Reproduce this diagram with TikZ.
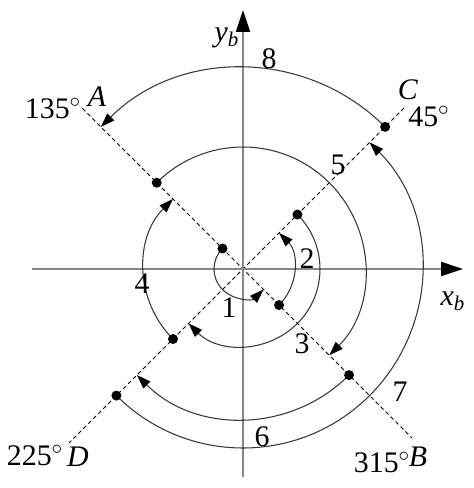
\documentclass[tikz,border=0pt]{standalone}
\usepackage{fontspec}
\setmainfont{Liberation Serif}
\usepackage{tikz}
\usetikzlibrary{arrows.meta}
\definecolor{axisgrey}{RGB}{135,135,135}
\definecolor{arcgrey}{RGB}{55,55,55}
\tikzset{%
    axisline/.style={%
        draw=axisgrey, line width=1pt,
        -{Triangle[color=black,fill=black,length=12.5pt,width=8pt]}
    },
    ray/.style={%
        draw=black, line width=0.45pt, dash pattern=on 2.3pt off 1.7pt
    },
    turn/.style={%
        draw=arcgrey, line width=0.6pt,
        -{Triangle[color=black,fill=black,length=8pt,width=5.5pt]}
    },
    lbl/.style={font=\fontsize{17}{19}\selectfont, inner sep=0pt}
}

\begin{document}
\begin{tikzpicture}[x=0.02cm,y=0.02cm]
    \useasboundingbox (-243,-219) rectangle (231,269);
    \coordinate (O) at (0,0);
    \coordinate (xs) at (-211,0);
    \coordinate (xe) at (220,0);
    \coordinate (ys) at (0,-208);
    \coordinate (ye) at (0,259);
    \coordinate (A) at (135:227);
    \coordinate (B) at (315:239);
    \coordinate (C) at (45:228);
    \coordinate (D) at (225:246);
    % dashed directions and body axes
    \draw[ray] (A) -- (O) -- (B);
    \draw[ray] (C) -- (O) -- (D);
    \draw[axisline] (xs) -- (xe);
    \draw[axisline] (ys) -- (ye);
    % start points of the turns
    \coordinate (d1) at (135:29);
    \coordinate (d2) at (315:51);
    \coordinate (d3) at (45:77);
    \coordinate (d4) at (225:99);
    \coordinate (d5) at (135:122);
    \coordinate (d6) at (315:150);
    \coordinate (d7) at (225:179);
    \coordinate (d8) at (45:201);
    \draw[turn] (d1) arc[start angle=135, delta angle=180, radius=29];
    \draw[turn] (d2) arc[start angle=-45, delta angle=90, radius=51];
    \draw[turn] (d3) arc[start angle=45, delta angle=-180, radius=77];
    \draw[turn] (d4) arc[start angle=225, delta angle=-90, radius=99];
    \draw[turn] (d5) arc[start angle=135, delta angle=-180, radius=122];
    \draw[turn] (d6) arc[start angle=315, delta angle=-90, radius=150];
    \draw[turn] (d7) arc[start angle=225, delta angle=180, radius=179];
    \draw[turn] (d8) arc[start angle=45, delta angle=90, radius=201];
    \fill (d1) circle (5);
    \fill (d2) circle (5);
    \fill (d3) circle (5);
    \fill (d4) circle (5);
    \fill (d5) circle (5);
    \fill (d6) circle (5);
    \fill (d7) circle (5);
    \fill (d8) circle (5);
    % labels
    \node[lbl] (n1) at (-14,-39) {1};
    \node[lbl] (n2) at (64,10) {2};
    \node[lbl] (n3) at (59,-75) {3};
    \node[lbl] (n4) at (-101,-15) {4};
    \node[lbl] (n5) at (95,104) {5};
    \node[lbl] (n6) at (19,-168) {6};
    \node[lbl] (n7) at (157,-123) {7};
    \node[lbl] (n8) at (26,210) {8};
    \node[lbl] (yb) at (-16,231) {\textit{y}\textsubscript{\textit{b}}};
    \node[lbl] (xb) at (210,-32) {\textit{x}\textsubscript{\textit{b}}};
    \node[lbl] (degA) at (-190,161) {135$^{\circ}$};
    \node[lbl] (lblA) at (-146,172) {\textit{A}};
    \node[lbl] (lblC) at (165,179) {\textit{C}};
    \node[lbl] (degC) at (186,153) {45$^{\circ}$};
    \node[lbl] (degD) at (-208,-186) {225$^{\circ}$};
    \node[lbl] (lblD) at (-165,-188) {\textit{D}};
    \node[lbl] (degB) at (139,-193) {315$^{\circ}$};
    \node[lbl] (lblB) at (175,-188) {\textit{B}};
\end{tikzpicture}
\end{document}
